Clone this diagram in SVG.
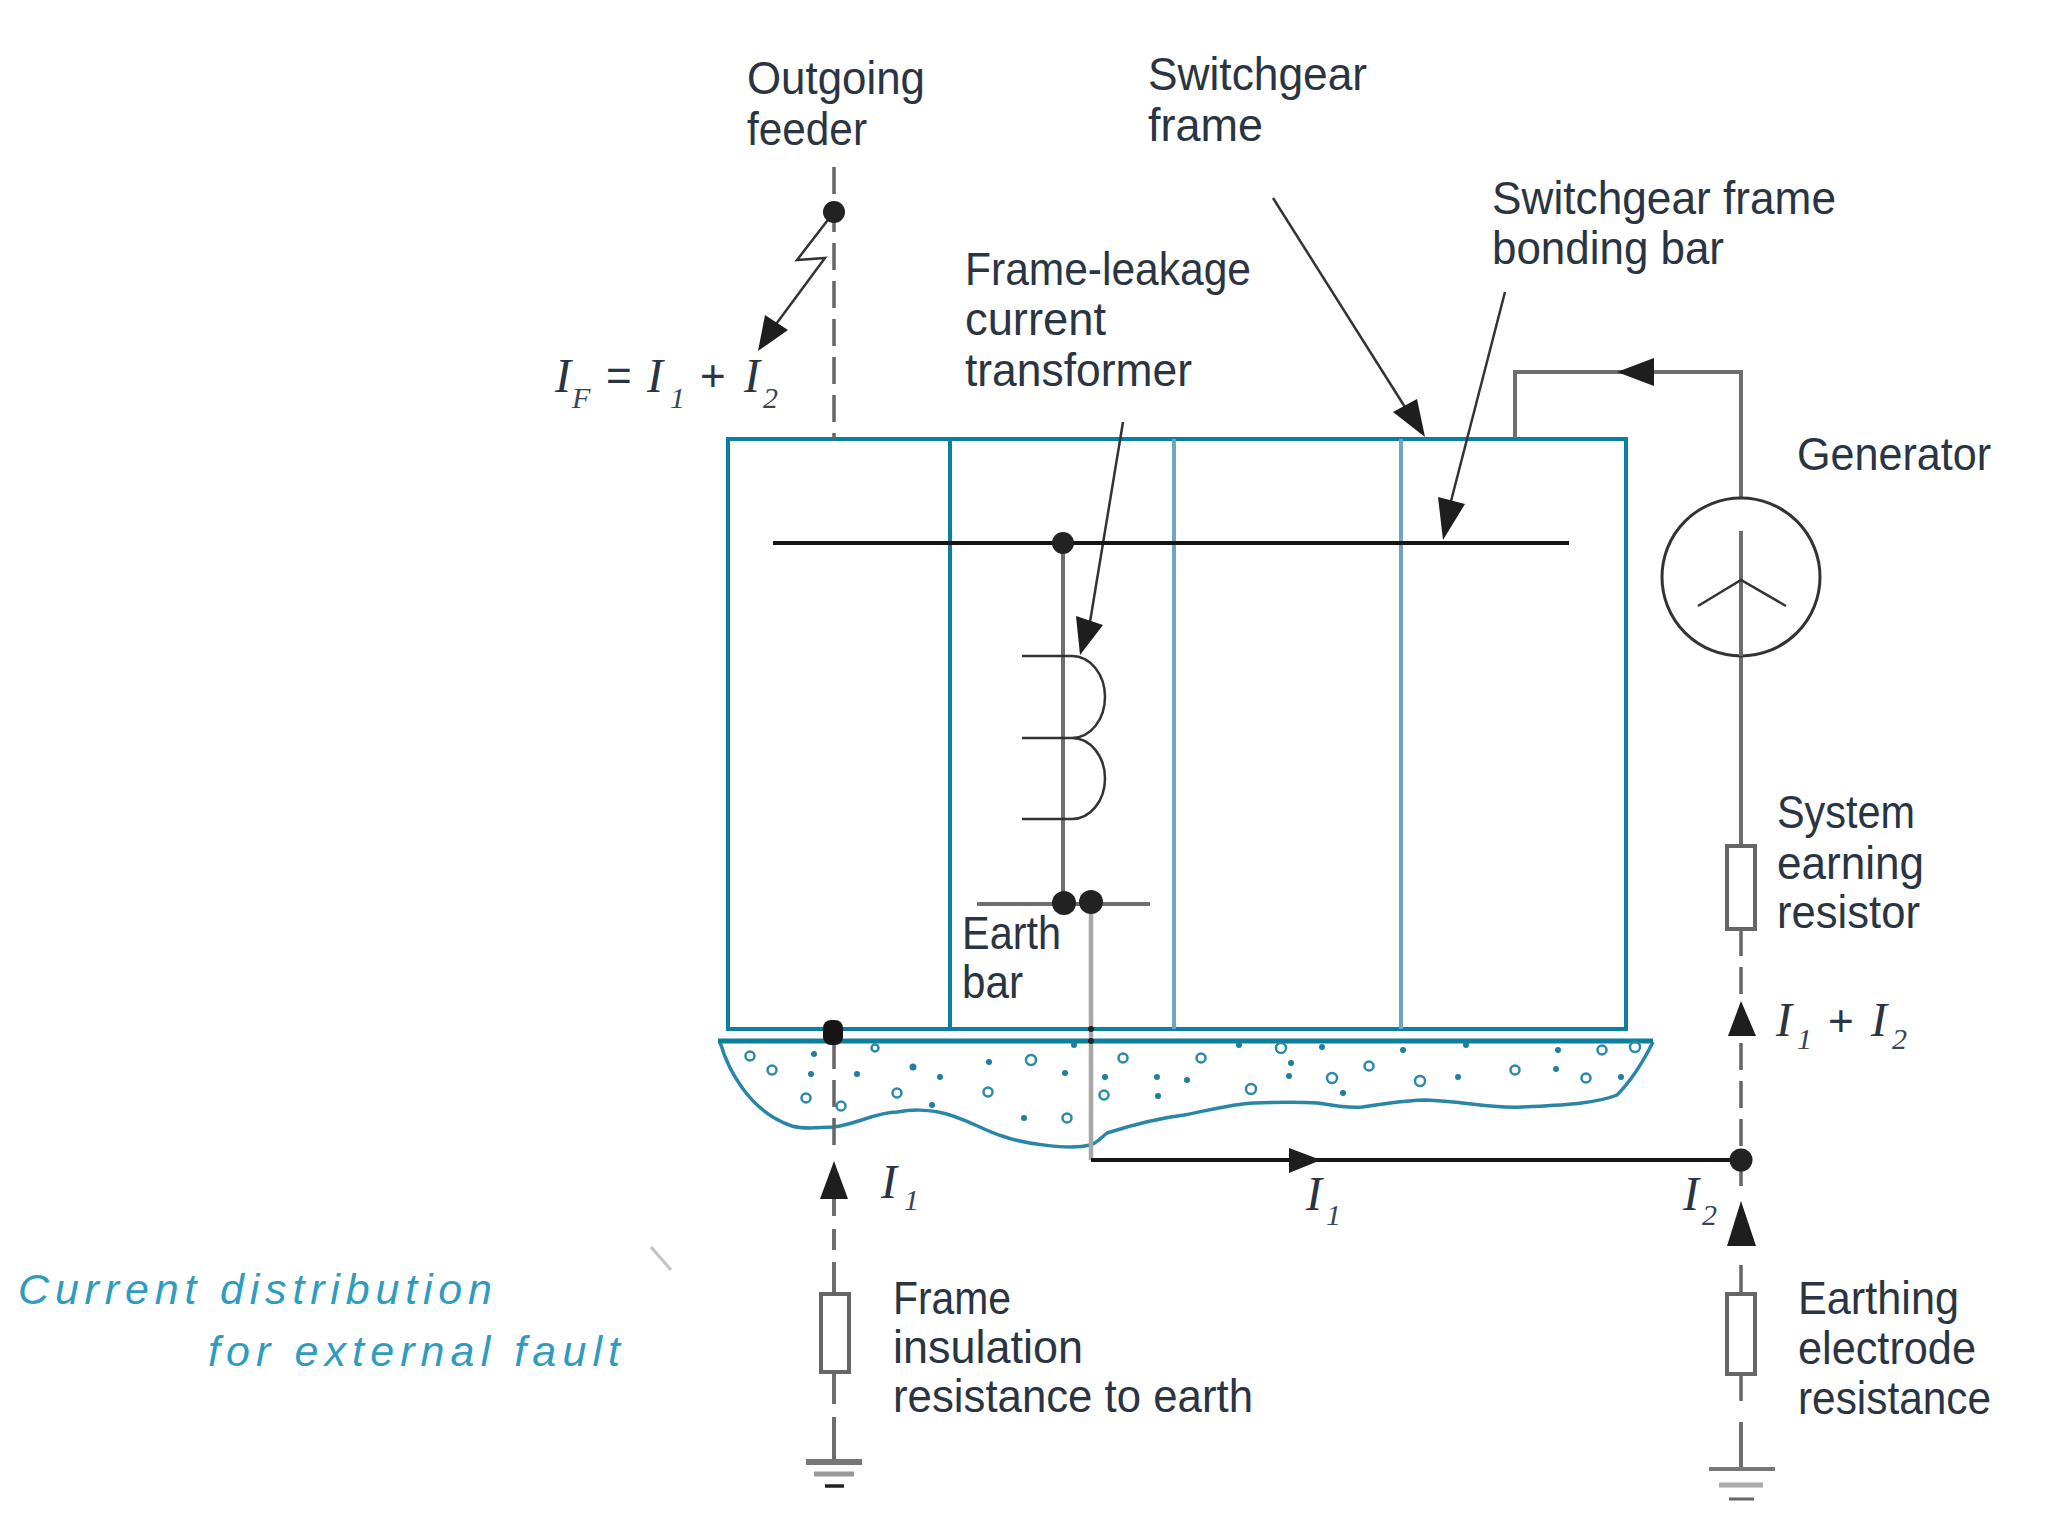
<svg xmlns="http://www.w3.org/2000/svg" width="2048" height="1536" viewBox="0 0 2048 1536">
<style>
.t{font-family:"Liberation Sans",Arial,sans-serif;font-size:47px;fill:#2a3442}
.c{font-family:"Liberation Sans",Arial,sans-serif;font-size:43px;font-style:italic;fill:#2f9cbf}
.m{font-family:"Liberation Serif","Times New Roman",serif;font-size:48px;font-style:italic;fill:#2a3442}
.s{font-family:"Liberation Serif","Times New Roman",serif;font-size:30px;font-style:italic;fill:#3a4456}
.o{font-family:"Liberation Sans",Arial,sans-serif;font-size:44px;fill:#2a3442}
.dash{fill:none;stroke:#666;stroke-width:3.5;stroke-dasharray:27 11}
.wire{fill:none;stroke:#6e6e6e;stroke-width:4}
.thin{fill:none;stroke:#333;stroke-width:2.5}
.blk{fill:none;stroke:#151515;stroke-width:4}
.head{fill:#1e1e1e;stroke:none}
.dot{fill:#222;stroke:none}
.res{fill:#fff;stroke:#666;stroke-width:4}
.frame{fill:none;stroke:#0a7fa0;stroke-width:4}
.pale{fill:none;stroke:#6ea5bf;stroke-width:4}
.ring{fill:none;stroke:#2a8aa8;stroke-width:2.5}
.spk{fill:#1f7f9f}
</style>
<rect width="2048" height="1536" fill="#fff"/>

<g id="earth-ground">
  <path d="M720 1042C728 1070 750 1112 792 1126C806 1130 820 1127 833 1127C855 1125 876 1112 897 1112C915 1109 925 1110 938 1112C962 1116 982 1130 1002 1136C1024 1144 1070 1150 1090 1145C1096 1144 1102 1137 1107 1133C1135 1124 1160 1118 1184 1115C1210 1110 1232 1104 1254 1103C1282 1102 1300 1102 1318 1103C1335 1106 1350 1108 1362 1107C1385 1104 1405 1100 1426 1100C1462 1101 1490 1109 1522 1107C1560 1105 1595 1104 1617 1095C1632 1080 1646 1056 1653 1042" fill="none" stroke="#2a86a6" stroke-width="3.5"/>
  <path d="M718 1041H1653" fill="none" stroke="#0a7fa0" stroke-width="5"/>
  <g class="ring">
    <circle cx="750" cy="1056" r="4.5"/><circle cx="772" cy="1070" r="4.5"/><circle cx="806" cy="1098" r="4.5"/><circle cx="841" cy="1106" r="4.5"/><circle cx="897" cy="1093" r="4.5"/><circle cx="1031" cy="1060" r="5"/><circle cx="988" cy="1092" r="4.5"/><circle cx="1067" cy="1118" r="4.5"/><circle cx="1123" cy="1058" r="4.5"/><circle cx="1201" cy="1058" r="4.5"/><circle cx="1104" cy="1095" r="4.5"/><circle cx="1251" cy="1089" r="5"/><circle cx="1281" cy="1048" r="5"/><circle cx="1332" cy="1078" r="5"/><circle cx="1369" cy="1066" r="4.5"/><circle cx="1420" cy="1081" r="5"/><circle cx="1515" cy="1070" r="4.5"/><circle cx="1586" cy="1078" r="4.5"/><circle cx="1602" cy="1050" r="4.5"/><circle cx="1635" cy="1047" r="5"/><circle cx="875" cy="1048" r="3.5"/>
  </g>
  <g class="spk">
    <circle cx="814" cy="1054" r="3"/><circle cx="811" cy="1074" r="3"/><circle cx="857" cy="1074" r="3"/><circle cx="913" cy="1067" r="3.5"/><circle cx="940" cy="1077" r="3"/><circle cx="989" cy="1062" r="3"/><circle cx="1065" cy="1073" r="3"/><circle cx="1074" cy="1045" r="3"/><circle cx="1105" cy="1077" r="3"/><circle cx="1157" cy="1077" r="3"/><circle cx="1187" cy="1080" r="3"/><circle cx="1158" cy="1096" r="3"/><circle cx="1024" cy="1118" r="3"/><circle cx="1239" cy="1045" r="3"/><circle cx="1322" cy="1047" r="3"/><circle cx="1291" cy="1063" r="3"/><circle cx="1289" cy="1076" r="3"/><circle cx="1343" cy="1093" r="3"/><circle cx="1403" cy="1050" r="3"/><circle cx="1466" cy="1045" r="3"/><circle cx="1458" cy="1077" r="3"/><circle cx="1556" cy="1069" r="3"/><circle cx="1558" cy="1050" r="3"/><circle cx="1621" cy="1077" r="3"/><circle cx="932" cy="1105" r="3"/>
  </g>
</g>

<g id="switchgear-frame">
  <rect class="frame" x="728" y="439" width="898" height="590"/>
  <path class="frame" d="M950 439V1029"/>
  <path class="pale" d="M1174 439V1029M1401 439V1029"/>
</g>

<g id="connectors">
  <path class="dash" d="M834 167V439"/>
  <path class="dash" d="M834 1042V1153"/>
  <path class="thin" d="M834 212L797 260L825 258L768 335"/>
  <path class="thin" d="M1273 198L1410 415"/>
  <path class="thin" d="M1505 292L1450 505"/>
  <path class="thin" d="M1123 422L1090 622"/>
  <path class="blk" d="M773 543H1569"/>
  <path class="wire" d="M1063 545V902"/>
  <path class="wire" d="M977 904H1150"/>
  <path d="M1091 904V1160" fill="none" stroke="#a8a8a8" stroke-width="4.5"/>
  <path class="blk" d="M1091 1160H1741"/>
  <path class="wire" d="M1515 438V372H1741V499"/>
  <path class="wire" d="M1741 656V845"/>
  <path class="dash" d="M1741 929V1158"/>
  <path class="dash" d="M1741 1160V1186"/>
  <path class="dash" d="M1741 1265V1294"/>
  <path class="dash" d="M1741 1374V1406"/>
  <path class="wire" d="M1741 1422V1468"/>
  <path class="wire" stroke-width="3" d="M834 1199V1216M834 1229V1250M834 1262V1294M834 1372V1404M834 1417V1460"/>
  <polygon class="head" points="758,351 765,315 788,330"/>
  <polygon class="head" points="1425,437 1393,412 1417,399"/>
  <polygon class="head" points="1443,540 1438,497 1465,504"/>
  <polygon class="head" points="1080,655 1076,616 1103,625"/>
  <polygon class="head" points="1617,372 1654,358 1654,386"/>
  <polygon class="head" points="1321,1160 1289,1148 1289,1173"/>
  <polygon class="head" points="834,1161 820,1199 848,1199"/>
  <polygon class="head" points="1741,1001 1728,1036 1756,1036"/>
  <polygon class="head" points="1741,1201 1727,1246 1756,1246"/>
  <circle class="dot" cx="1091" cy="1029" r="3"/>
  <circle class="dot" cx="1091" cy="1041" r="3"/>
  <path d="M651 1247L671 1270" fill="none" stroke="#c4c4c4" stroke-width="3"/>
</g>

<g id="feeder-fault-point"><circle class="dot" cx="834" cy="212" r="11"/></g>
<g id="bus-junction"><circle class="dot" cx="1063" cy="543" r="11"/></g>
<g id="frame-earth-point"><rect x="823" y="1020" width="20" height="25" rx="8" fill="#161616"/></g>
<g id="earth-junction"><circle class="dot" cx="1741" cy="1160" r="11.5"/></g>

<g id="current-transformer">
  <path class="thin" d="M1022 656H1072A33 41 0 0 1 1072 738A33 40.5 0 0 1 1072 819H1022M1022 738H1072"/>
</g>
<g id="earth-bar">
  <circle class="dot" cx="1064" cy="903" r="12"/>
  <circle class="dot" cx="1091" cy="902" r="12"/>
</g>

<g id="generator">
  <circle cx="1741" cy="577" r="79" fill="none" stroke="#333" stroke-width="3"/>
  <path class="wire" d="M1741 531V656"/>
  <path class="thin" d="M1698 606L1741 580L1786 606"/>
</g>

<g id="system-earthing-resistor"><rect class="res" x="1727" y="846" width="28" height="83"/></g>
<g id="earthing-electrode-resistance"><rect class="res" x="1727" y="1294" width="28" height="80"/></g>
<g id="frame-insulation-resistance"><rect class="res" x="821" y="1294" width="28" height="78"/></g>

<g id="earth-left">
  <path d="M806 1462H862" stroke="#777" stroke-width="6" fill="none"/>
  <path d="M814 1474H854" stroke="#999" stroke-width="5" fill="none"/>
  <path d="M825 1486H844" stroke="#222" stroke-width="3.5" fill="none"/>
</g>
<g id="earth-right">
  <path d="M1709 1469H1775" stroke="#777" stroke-width="4" fill="none"/>
  <path d="M1719 1485H1763" stroke="#aaa" stroke-width="5" fill="none"/>
  <path d="M1729 1499H1754" stroke="#666" stroke-width="3" fill="none"/>
</g>

<g id="labels">
  <text class="t" x="747" y="94" textLength="178" lengthAdjust="spacingAndGlyphs">Outgoing</text>
  <text class="t" x="747" y="145" textLength="120" lengthAdjust="spacingAndGlyphs">feeder</text>
  <text class="t" x="1148" y="90" textLength="219" lengthAdjust="spacingAndGlyphs">Switchgear</text>
  <text class="t" x="1148" y="141" textLength="115" lengthAdjust="spacingAndGlyphs">frame</text>
  <text class="t" x="1492" y="214" textLength="344" lengthAdjust="spacingAndGlyphs">Switchgear frame</text>
  <text class="t" x="1492" y="264" textLength="232" lengthAdjust="spacingAndGlyphs">bonding bar</text>
  <text class="t" x="965" y="285" textLength="286" lengthAdjust="spacingAndGlyphs">Frame-leakage</text>
  <text class="t" x="965" y="335" textLength="141" lengthAdjust="spacingAndGlyphs">current</text>
  <text class="t" x="965" y="386" textLength="227" lengthAdjust="spacingAndGlyphs">transformer</text>
  <text class="t" x="1797" y="470" textLength="194" lengthAdjust="spacingAndGlyphs">Generator</text>
  <text class="t" x="1777" y="828" textLength="138" lengthAdjust="spacingAndGlyphs">System</text>
  <text class="t" x="1777" y="879" textLength="147" lengthAdjust="spacingAndGlyphs">earning</text>
  <text class="t" x="1777" y="928" textLength="143" lengthAdjust="spacingAndGlyphs">resistor</text>
  <text class="t" x="962" y="949" textLength="99" lengthAdjust="spacingAndGlyphs">Earth</text>
  <text class="t" x="962" y="998" textLength="61" lengthAdjust="spacingAndGlyphs">bar</text>
  <text class="t" x="893" y="1314" textLength="118" lengthAdjust="spacingAndGlyphs">Frame</text>
  <text class="t" x="893" y="1363" textLength="190" lengthAdjust="spacingAndGlyphs">insulation</text>
  <text class="t" x="893" y="1412" textLength="360" lengthAdjust="spacingAndGlyphs">resistance to earth</text>
  <text class="t" x="1798" y="1314" textLength="161" lengthAdjust="spacingAndGlyphs">Earthing</text>
  <text class="t" x="1798" y="1364" textLength="178" lengthAdjust="spacingAndGlyphs">electrode</text>
  <text class="t" x="1798" y="1414" textLength="193" lengthAdjust="spacingAndGlyphs">resistance</text>
  <text class="c" x="18" y="1304" textLength="474">Current distribution</text>
  <text class="c" x="208" y="1366" textLength="412">for external fault</text>

  <text class="m" x="555" y="392">I</text><text class="s" x="572" y="408">F</text>
  <text class="o" x="606" y="391">=</text>
  <text class="m" x="647" y="392">I</text><text class="s" x="670" y="408">1</text>
  <text class="o" x="700" y="391">+</text>
  <text class="m" x="744" y="392">I</text><text class="s" x="763" y="408">2</text>

  <text class="m" x="1776" y="1036">I</text><text class="s" x="1797" y="1049">1</text>
  <text class="o" x="1828" y="1036">+</text>
  <text class="m" x="1871" y="1036">I</text><text class="s" x="1892" y="1049">2</text>

  <text class="m" x="881" y="1198">I</text><text class="s" x="904" y="1210">1</text>
  <text class="m" x="1306" y="1210">I</text><text class="s" x="1326" y="1225">1</text>
  <text class="m" x="1683" y="1210">I</text><text class="s" x="1702" y="1225">2</text>
</g>
</svg>
